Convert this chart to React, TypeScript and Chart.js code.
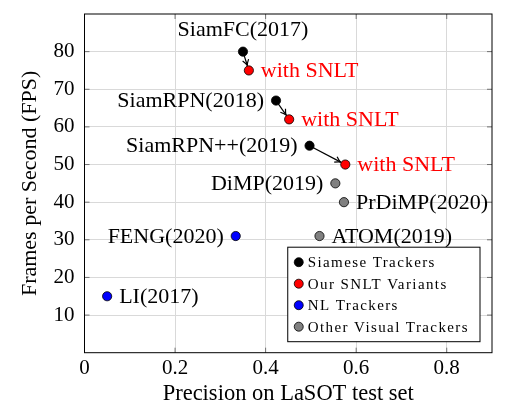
import { useEffect, useRef } from 'react';
import { Chart, registerables } from 'chart.js';

Chart.register(...registerables);

// ---- data ----
const seriesNames = ['Siamese Trackers', 'Our SNLT Variants', 'NL Trackers', 'Other Visual Trackers'];
const seriesColors = ['#000000', '#ff0000', '#0000ff', '#808080'];
const labelColors = ['#000000', '#ff0000', '#000000', '#000000'];

const siameseX = [0.35, 0.423, 0.497];
const siameseY = [80, 67, 55];
const siameseNames = ['SiamFC(2017)', 'SiamRPN(2018)', 'SiamRPN++(2019)'];

const snltX = [0.363, 0.452, 0.576];
const snltY = [75, 62, 50];
const snltNames = ['with SNLT', 'with SNLT', 'with SNLT'];

const nlX = [0.334, 0.05];
const nlY = [31, 15];
const nlNames = ['FENG(2020)', 'LI(2017)'];

const otherX = [0.554, 0.573, 0.519];
const otherY = [45, 40, 31];
const otherNames = ['DiMP(2019)', 'PrDiMP(2020)', 'ATOM(2019)'];

const xTicks = [0, 0.2, 0.4, 0.6, 0.8];
const yTicks = [10, 20, 30, 40, 50, 60, 70, 80];

// label placement (style)
const siamesePlace = ['above', 'left', 'left'];
const snltPlace = ['right', 'right', 'right'];
const nlPlace = ['left', 'right'];
const otherPlace = ['left', 'right', 'right'];

const FONT = '"Liberation Serif", "Times New Roman", serif';
const RADIUS = 4.6;

const toPts = (xs: number[], ys: number[]) => xs.map((x, i) => ({ x, y: ys[i] }));

const framePlugin = {
  id: 'frame',
  beforeDatasetsDraw(chart: any) {
    const { ctx, chartArea: a, scales } = chart;
    ctx.save();
    // inner ticks
    ctx.strokeStyle = '#555';
    ctx.lineWidth = 0.8;
    const tl = 5;
    yTicks.forEach((v) => {
      const y = scales.y.getPixelForValue(v);
      ctx.beginPath();
      ctx.moveTo(a.left, y); ctx.lineTo(a.left + tl, y);
      ctx.moveTo(a.right, y); ctx.lineTo(a.right - tl, y);
      ctx.stroke();
    });
    xTicks.forEach((v) => {
      const x = scales.x.getPixelForValue(v);
      ctx.beginPath();
      ctx.moveTo(x, a.bottom); ctx.lineTo(x, a.bottom - tl);
      ctx.moveTo(x, a.top); ctx.lineTo(x, a.top + tl);
      ctx.stroke();
    });
    ctx.strokeStyle = '#000';
    ctx.lineWidth = 1;
    ctx.strokeRect(a.left, a.top, a.right - a.left, a.bottom - a.top);

    // arrows from dataset 0 to dataset 1
    const m0 = chart.getDatasetMeta(0).data;
    const m1 = chart.getDatasetMeta(1).data;
    ctx.strokeStyle = '#000';
    ctx.lineWidth = 1.2;
    for (let i = 0; i < Math.min(m0.length, m1.length); i++) {
      const x0 = m0[i].x, y0 = m0[i].y, x1 = m1[i].x, y1 = m1[i].y;
      const dx = x1 - x0, dy = y1 - y0;
      const len = Math.hypot(dx, dy);
      const ux = dx / len, uy = dy / len;
      const tx = x1 - ux * (RADIUS + 0.6), ty = y1 - uy * (RADIUS + 0.6);
      ctx.beginPath();
      ctx.moveTo(x0, y0);
      ctx.lineTo(tx, ty);
      ctx.stroke();
      const ang = Math.atan2(uy, ux);
      const hl = 6.5, ha = 0.5;
      ctx.beginPath();
      ctx.moveTo(tx - hl * Math.cos(ang - ha), ty - hl * Math.sin(ang - ha));
      ctx.quadraticCurveTo(tx - 2 * Math.cos(ang - 0.2), ty - 2 * Math.sin(ang - 0.2), tx, ty);
      ctx.quadraticCurveTo(tx - 2 * Math.cos(ang + 0.2), ty - 2 * Math.sin(ang + 0.2), tx - hl * Math.cos(ang + ha), ty - hl * Math.sin(ang + ha));
      ctx.stroke();
    }
    ctx.restore();
  },
  afterDatasetsDraw(chart: any) {
    const { ctx, chartArea: a } = chart;
    ctx.save();
    // point labels
    ctx.font = `22px ${FONT}`;
    chart.data.datasets.forEach((ds: any, di: number) => {
      const meta = chart.getDatasetMeta(di).data;
      meta.forEach((el: any, i: number) => {
        const text = ds.pointNames[i];
        const place = ds.placements[i];
        ctx.fillStyle = ds.labelColor;
        if (place === 'above') {
          ctx.textAlign = 'center';
          ctx.textBaseline = 'alphabetic';
          ctx.fillText(text, el.x, el.y - 16);
        } else if (place === 'left') {
          ctx.textAlign = 'right';
          ctx.textBaseline = 'middle';
          ctx.fillText(text, el.x - 12, el.y + 1);
        } else {
          ctx.textAlign = 'left';
          ctx.textBaseline = 'middle';
          ctx.fillText(text, el.x + 12, el.y + 1);
        }
      });
    });

    // legend
    ctx.font = `15px ${FONT}`;
    (ctx as any).letterSpacing = '1.4px';
    const names = chart.data.datasets.map((d: any) => d.label);
    const tw = Math.max(...names.map((n: string) => ctx.measureText(n).width));
    const rowH = 21.5;
    const padTop = 15;
    const h = padTop * 2 + rowH * (names.length - 1);
    const w = 20 + tw + 11;
    const right = a.right - 12;
    const bottom = a.bottom - 11;
    const left = right - w;
    const top = bottom - h;
    ctx.fillStyle = '#fff';
    ctx.fillRect(left, top, w, h);
    ctx.strokeStyle = '#000';
    ctx.lineWidth = 1;
    ctx.strokeRect(left, top, w, h);
    names.forEach((n: string, i: number) => {
      const cy = top + padTop + i * rowH;
      const cx = left + 11;
      ctx.beginPath();
      ctx.arc(cx, cy, 4.5, 0, Math.PI * 2);
      ctx.fillStyle = chart.data.datasets[i].backgroundColor;
      ctx.fill();
      ctx.lineWidth = 0.8;
      ctx.strokeStyle = '#000';
      ctx.stroke();
      ctx.fillStyle = '#000';
      ctx.textAlign = 'left';
      ctx.textBaseline = 'middle';
      ctx.fillText(n, left + 20, cy + 1);
    });
    ctx.restore();
  },
};

export default function App() {
  const ref = useRef<HTMLCanvasElement | null>(null);
  useEffect(() => {
    if (!ref.current) return;
    const mk = (i: number, xs: number[], ys: number[], names: string[], places: string[]) => ({
      label: seriesNames[i],
      data: toPts(xs, ys),
      backgroundColor: seriesColors[i],
      borderColor: '#000',
      borderWidth: 0.8,
      pointRadius: RADIUS,
      pointHoverRadius: RADIUS,
      pointNames: names,
      placements: places,
      labelColor: labelColors[i],
    });
    const chart = new Chart(ref.current, {
      type: 'scatter',
      data: {
        datasets: [
          mk(0, siameseX, siameseY, siameseNames, siamesePlace),
          mk(1, snltX, snltY, snltNames, snltPlace),
          mk(2, nlX, nlY, nlNames, nlPlace),
          mk(3, otherX, otherY, otherNames, otherPlace),
        ] as any,
      },
      options: {
        animation: false,
        responsive: false,
        layout: { padding: { left: 0, right: 27, top: 14, bottom: 0 } },
        plugins: { legend: { display: false }, tooltip: { enabled: false } },
        scales: {
          x: {
            type: 'linear',
            min: 0,
            max: 0.9,
            afterBuildTicks: (s: any) => { s.ticks = xTicks.map((v) => ({ value: v })); },
            afterFit: (s: any) => { s.height = 59.3; s.paddingLeft = 0; s.paddingRight = 0; },
            grid: { color: '#d9d9d9', lineWidth: 1, drawTicks: false },
            border: { display: false },
            ticks: { color: '#000', font: { family: FONT, size: 21 }, padding: 3, callback: (v: any) => String(v), maxRotation: 0 },
            title: { display: true, text: 'Precision on LaSOT test set', color: '#000', font: { family: FONT, size: 22.5 }, padding: { top: 0, bottom: 4 } },
          },
          y: {
            type: 'linear',
            min: 0,
            max: 90,
            afterBuildTicks: (s: any) => { s.ticks = yTicks.map((v) => ({ value: v })); },
            afterFit: (s: any) => { s.width = 84.5; s.paddingTop = 0; s.paddingBottom = 0; },
            grid: { color: '#d9d9d9', lineWidth: 1, drawTicks: false },
            border: { display: false },
            ticks: { color: '#000', font: { family: FONT, size: 21 }, padding: 10, callback: (v: any) => String(v) },
            title: { display: true, text: 'Frames per Second (FPS)', color: '#000', font: { family: FONT, size: 22 }, padding: { top: 17, bottom: 0 } },
          },
        },
      },
      plugins: [framePlugin],
    });
    return () => chart.destroy();
  }, []);
  return (
    <div style={{ position: 'absolute', left: 0, top: 0, width: 519, height: 412, background: '#fff' }}>
      <canvas ref={ref} width={519} height={412} style={{ width: '519px', height: '412px', display: 'block' }} />
    </div>
  );
}
